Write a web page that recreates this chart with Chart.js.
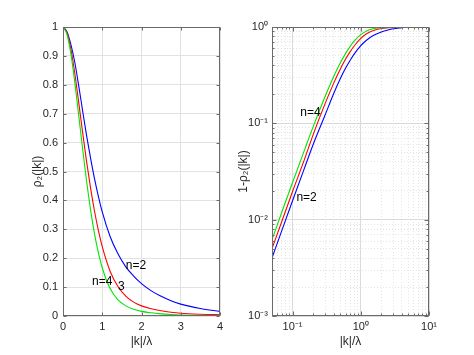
<!DOCTYPE html>
<html><head><meta charset="utf-8">
<script src="https://cdn.jsdelivr.net/npm/chart.js@4/dist/chart.umd.min.js"></script>
<style>
html,body{margin:0;padding:0;background:#fff;}
#wrap{position:relative;width:474px;height:355px;background:#fff;}
.c{position:absolute;top:0;width:237px;height:355px;}
</style></head><body>
<div id="wrap">
<div class="c" style="left:0"><canvas id="left" width="237" height="355"></canvas></div>
<div class="c" style="left:237px"><canvas id="right" width="237" height="355"></canvas></div>
</div>
<script>
// ---------- data ----------
const kLin   = [0, 0.1, 0.2, 0.3, 0.4, 0.5, 0.6, 0.7, 0.8, 0.9, 1.0, 1.2, 1.4, 1.6, 1.8, 2.0, 2.25, 2.5, 2.75, 3.0, 3.5, 4.0];
const rhoN2  = [1, 0.984, 0.940, 0.878, 0.797, 0.710, 0.625, 0.548, 0.477, 0.415, 0.360, 0.275, 0.215, 0.170, 0.138, 0.112, 0.087, 0.068, 0.053, 0.041, 0.026, 0.016];
const rhoN3  = [1, 0.980, 0.924, 0.840, 0.740, 0.635, 0.535, 0.445, 0.365, 0.297, 0.240, 0.155, 0.102, 0.069, 0.048, 0.035, 0.025, 0.018, 0.013, 0.0095, 0.006, 0.004];
const rhoN4  = [1, 0.975, 0.908, 0.810, 0.695, 0.578, 0.468, 0.370, 0.287, 0.220, 0.167, 0.095, 0.056, 0.035, 0.023, 0.016, 0.011, 0.0075, 0.0052, 0.0037, 0.002, 0.0012];

const kLog   = [0.05, 0.07, 0.1, 0.15, 0.2, 0.3, 0.4, 0.5, 0.6, 0.7, 0.8, 1.0, 1.2, 1.5, 2, 2.5, 3, 4];
const oneMinusN2 = [0.0040, 0.0078, 0.0157, 0.0345, 0.060, 0.122, 0.203, 0.290, 0.375, 0.452, 0.523, 0.640, 0.725, 0.810, 0.888, 0.932, 0.959, 0.984];
const oneMinusN3 = [0.0050, 0.0097, 0.0196, 0.0425, 0.076, 0.160, 0.260, 0.365, 0.465, 0.555, 0.635, 0.760, 0.845, 0.915, 0.965, 0.982, 0.9905, 0.996];
const oneMinusN4 = [0.0062, 0.0121, 0.0243, 0.0530, 0.092, 0.190, 0.305, 0.422, 0.532, 0.630, 0.713, 0.833, 0.905, 0.958, 0.984, 0.9925, 0.9963, 0.9988];

const seriesNames  = ['n=2', 'n=3', 'n=4'];
const seriesColors = ['#0000ff', '#ff0000', '#00e600'];

const leftXTicks = [0, 1, 2, 3, 4];
const leftXLabels = ['0', '1', '2', '3', '4'];
const leftYTicks = [0, 0.1, 0.2, 0.3, 0.4, 0.5, 0.6, 0.7, 0.8, 0.9, 1];
const leftYLabels = ['0', '0.1', '0.2', '0.3', '0.4', '0.5', '0.6', '0.7', '0.8', '0.9', '1'];
const rightXDecades = [-2, -1, 0, 1];   // minor ticks built from these decades
const rightYDecades = [-3, -2, -1, 0];

const leftNotes  = [{text: 'n=2', x: 1.6, y: 0.174}, {text: 'n=4', x: 0.74, y: 0.12}, {text: '3', x: 1.4, y: 0.10}];
const rightNotes = [{text: 'n=4', x: 0.13, y: 0.128}, {text: 'n=2', x: 0.114, y: 0.017}];

const xTitle = '|k|/\u03bb';
const leftYTitle = '\u03c1\u2082(|k|)';
const rightYTitle = '1-\u03c1\u2082(|k|)';

// ---------- helpers ----------
const SUP = {'-': '\u207b', '0': '\u2070', '1': '\u00b9', '2': '\u00b2', '3': '\u00b3'};
function supText(n) { return String(n).split('').map(c => SUP[c]).join(''); }
function isDecade(v) { const l = Math.log10(v); return Math.abs(l - Math.round(l)) < 1e-9; }
function logTicks(decades, min, max) {
  const out = [];
  decades.forEach(d => { for (let m = 1; m <= 9; m++) { const v = +(m * Math.pow(10, d)).toPrecision(6); if (v >= min - 1e-12 && v <= max + 1e-12) out.push({value: v}); } });
  return out;
}

Chart.defaults.font.family = "'Liberation Sans', Arial, sans-serif";
Chart.defaults.font.size = 11;
Chart.defaults.color = '#262626';

const FRAME = '#6a6a6a';

function framePlugin(logMode) {
  return {
    id: 'frameTicks',
    afterDraw(chart, args, o) {
      const {ctx, chartArea: a, scales} = chart;
      ctx.save();
      ctx.strokeStyle = FRAME;
      ctx.lineWidth = 1;
      const L = Math.round(a.left) + 0.5, R = Math.round(a.right) - 0.5, T = Math.round(a.top) + 0.5, B = Math.round(a.bottom) - 0.5;
      function seg(x1, y1, x2, y2) { ctx.beginPath(); ctx.moveTo(x1, y1); ctx.lineTo(x2, y2); ctx.stroke(); }
      scales.x.ticks.forEach(t => {
        const p = Math.round(scales.x.getPixelForValue(t.value)) + 0.5;
        const len = logMode ? (isDecade(t.value) ? 4 : 2) : 3;
        seg(p, B, p, B - len); seg(p, T, p, T + len);
      });
      scales.y.ticks.forEach(t => {
        const p = Math.round(scales.y.getPixelForValue(t.value)) + 0.5;
        const len = logMode ? (isDecade(t.value) ? 4 : 2) : 3;
        seg(L, p, L + len, p); seg(R, p, R - len, p);
      });
      ctx.strokeRect(L, T, R - L, B - T);
      // titles
      ctx.fillStyle = '#262626';
      ctx.font = "12px 'Liberation Sans', Arial, sans-serif";
      ctx.textAlign = 'center';
      ctx.textBaseline = 'middle';
      ctx.fillText(xTitle, (a.left + a.right) / 2, a.bottom + 26);
      ctx.save();
      ctx.translate(a.left - o.yTitleOffset, (a.top + a.bottom) / 2);
      ctx.rotate(-Math.PI / 2);
      ctx.fillText(o.yTitle, 0, 0);
      ctx.restore();
      // text notes
      ctx.fillStyle = '#000';
      ctx.textAlign = 'left';
      o.notes.forEach(n => {
        ctx.fillText(n.text, scales.x.getPixelForValue(n.x), scales.y.getPixelForValue(n.y));
      });
      ctx.restore();
    }
  };
}

function makeDatasets(xs, ys) {
  return ys.map((arr, i) => ({
    label: seriesNames[i],
    data: xs.map((x, j) => ({x: x, y: arr[j]})),
    borderColor: seriesColors[i],
    backgroundColor: seriesColors[i],
    borderWidth: 1.1,
    pointRadius: 0,
    showLine: true,
    fill: false,
    cubicInterpolationMode: 'monotone',
    order: 3 - i
  }));
}

// ---------- left chart ----------
new Chart(document.getElementById('left'), {
  type: 'scatter',
  data: {datasets: makeDatasets(kLin, [rhoN2, rhoN3, rhoN4])},
  options: {
    responsive: false, animation: false, devicePixelRatio: 1,
    layout: {padding: {top: 27, right: 17, left: 0, bottom: 0}},
    plugins: {legend: {display: false}, tooltip: {enabled: false},
      frameTicks: {yTitle: leftYTitle, yTitleOffset: 25, notes: leftNotes}},
    scales: {
      x: {type: 'linear', min: 0, max: 4,
        afterBuildTicks: s => { s.ticks = leftXTicks.map(v => ({value: v})); },
        afterFit: s => { s.height = 39; },
        ticks: {padding: 4, maxRotation: 0, autoSkip: false, color: '#262626',
          callback: (v, i) => leftXLabels[i]},
        grid: {color: '#e2e2e2', drawTicks: false, lineWidth: 1},
        border: {display: false}},
      y: {type: 'linear', min: 0, max: 1,
        afterBuildTicks: s => { s.ticks = leftYTicks.map(v => ({value: v})); },
        afterFit: s => { s.width = 63; },
        ticks: {padding: 5, autoSkip: false, color: '#262626',
          callback: (v, i) => leftYLabels[i]},
        grid: {color: '#e2e2e2', drawTicks: false, lineWidth: 1},
        border: {display: false}}
    }
  },
  plugins: [framePlugin(false)]
});

// ---------- right chart ----------
const gridColor = c => (c.tick && isDecade(c.tick.value)) ? '#dadada' : '#e4e4e4';
const gridDash = c => (c.tick && isDecade(c.tick.value)) ? [] : [1, 2];
new Chart(document.getElementById('right'), {
  type: 'scatter',
  data: {datasets: makeDatasets(kLog, [oneMinusN2, oneMinusN3, oneMinusN4])},
  options: {
    responsive: false, animation: false, devicePixelRatio: 1,
    layout: {padding: {top: 27, right: 45, left: 0, bottom: 0}},
    plugins: {legend: {display: false}, tooltip: {enabled: false},
      frameTicks: {yTitle: rightYTitle, yTitleOffset: 28, notes: rightNotes}},
    scales: {
      x: {type: 'logarithmic', min: 0.05, max: 10,
        afterBuildTicks: s => { s.ticks = logTicks(rightXDecades, 0.05, 10); },
        afterFit: s => { s.height = 39; },
        ticks: {padding: 4, maxRotation: 0, autoSkip: false, color: '#262626',
          callback: v => isDecade(v) ? '10' + supText(Math.round(Math.log10(v))) : ''},
        grid: {color: gridColor, drawTicks: false, lineWidth: 1},
        border: {display: false, dash: gridDash}},
      y: {type: 'logarithmic', min: 0.001, max: 1,
        afterBuildTicks: s => { s.ticks = logTicks(rightYDecades, 0.001, 1); },
        afterFit: s => { s.width = 35; },
        ticks: {padding: 4, autoSkip: false, color: '#262626',
          callback: v => isDecade(v) ? '10' + supText(Math.round(Math.log10(v))) : ''},
        grid: {color: gridColor, drawTicks: false, lineWidth: 1},
        border: {display: false, dash: gridDash}}
    }
  },
  plugins: [framePlugin(true)]
});
</script>
</body></html>
